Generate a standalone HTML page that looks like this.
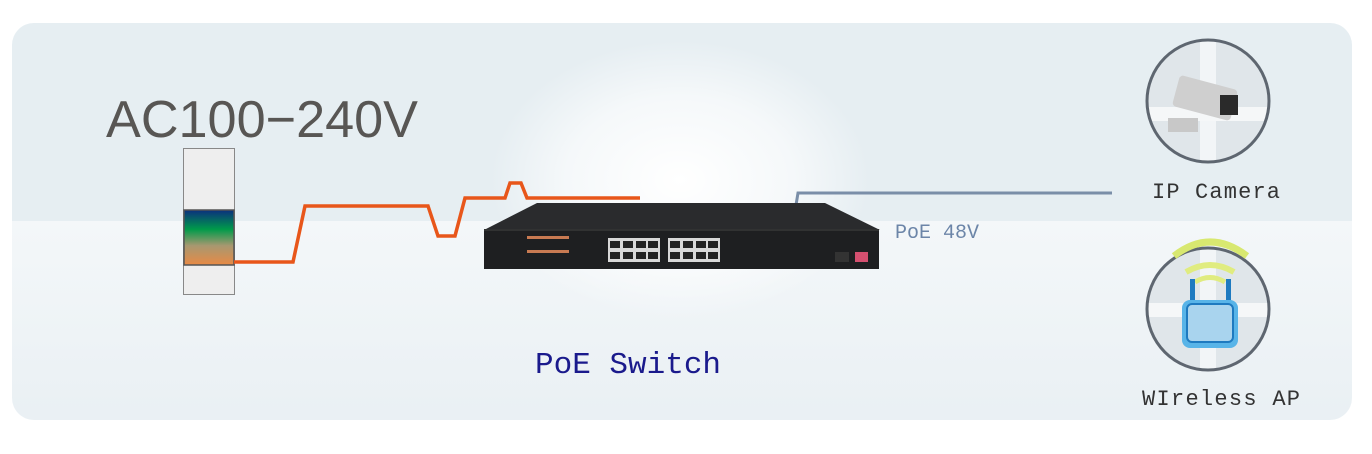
<!DOCTYPE html>
<html><head><style>
body{margin:0;width:1372px;height:449px;background:#fff;overflow:hidden;font-family:"Liberation Sans",sans-serif}
</style></head><body>
<svg width="1372" height="449" viewBox="0 0 1372 449" xmlns="http://www.w3.org/2000/svg">
<defs>
<clipPath id="pc"><rect x="12" y="23" width="1340" height="397" rx="22"/></clipPath>
<linearGradient id="bot" x1="0" y1="0" x2="0" y2="1"><stop offset="0" stop-color="#ffffff"/><stop offset="1" stop-color="#e8eff3"/></linearGradient>
<radialGradient id="glow" cx="0.5" cy="0.5" r="0.5"><stop offset="0" stop-color="#fff" stop-opacity="1"/><stop offset="0.6" stop-color="#fff" stop-opacity="0.6"/><stop offset="1" stop-color="#fff" stop-opacity="0"/></radialGradient>
<linearGradient id="band" x1="0" y1="0" x2="0" y2="1"><stop offset="0" stop-color="#0b2f7e"/><stop offset="0.35" stop-color="#009a4a"/><stop offset="0.65" stop-color="#a89870"/><stop offset="1" stop-color="#e88a45"/></linearGradient>
<clipPath id="c1"><circle cx="1208" cy="101" r="60"/></clipPath>
<clipPath id="c2"><circle cx="1208" cy="309" r="60"/></clipPath>
</defs>
<g clip-path="url(#pc)">
<rect x="0" y="0" width="1372" height="449" fill="url(#bot)"/>
<rect x="0" y="0" width="1372" height="221" fill="#e6eef2"/>
<ellipse cx="680" cy="180" rx="190" ry="140" fill="url(#glow)"/>
</g>
<text x="106" y="137" font-size="52" fill="#585654" textLength="312" lengthAdjust="spacingAndGlyphs">AC100−240V</text>
<rect x="183.5" y="148.5" width="51" height="146" fill="#eeeeee" stroke="#888"/>
<rect x="184" y="210" width="50" height="55" fill="url(#band)" stroke="#555" stroke-width="1.5"/>
<polyline points="234,262 293,262 305,206 428,206 438,236 455,236 465,198 505,198 510,183 521,183 527,198 640,198" fill="none" stroke="#e8561a" stroke-width="3.5"/>
<polyline points="796,205 798,193 1112,193" fill="none" stroke="#7a8ea8" stroke-width="3"/>
<polygon points="537,203 825,203 880,230 484,230" fill="#2a2b2d"/>
<rect x="484" y="229" width="395" height="40" fill="#1e1f21"/>
<line x1="484" y1="230" x2="879" y2="230" stroke="#444" stroke-width="1"/>
<rect x="527" y="236" width="42" height="3" fill="#c87a52"/>
<rect x="527" y="250" width="42" height="3" fill="#c87a52"/>
<g fill="#d8d8d8">
<rect x="608" y="238" width="52" height="24"/><rect x="668" y="238" width="52" height="24"/>
</g>
<g fill="#222">
<rect x="610" y="241" width="10" height="7"/><rect x="623" y="241" width="10" height="7"/><rect x="636" y="241" width="10" height="7"/><rect x="648" y="241" width="10" height="7"/>
<rect x="610" y="252" width="10" height="7"/><rect x="623" y="252" width="10" height="7"/><rect x="636" y="252" width="10" height="7"/><rect x="648" y="252" width="10" height="7"/>
<rect x="670" y="241" width="10" height="7"/><rect x="683" y="241" width="10" height="7"/><rect x="696" y="241" width="10" height="7"/><rect x="708" y="241" width="10" height="7"/>
<rect x="670" y="252" width="10" height="7"/><rect x="683" y="252" width="10" height="7"/><rect x="696" y="252" width="10" height="7"/><rect x="708" y="252" width="10" height="7"/>
</g>
<rect x="855" y="252" width="13" height="10" fill="#d55070"/>
<rect x="835" y="252" width="14" height="10" fill="#333"/>
<text x="895" y="238" font-size="20" fill="#6c85a8" font-family="Liberation Mono,monospace">PoE 48V</text>
<text x="535" y="373" font-size="31" fill="#1a1a8c" font-family="Liberation Mono,monospace">PoE Switch</text>
<g clip-path="url(#c1)"><rect x="1140" y="40" width="140" height="130" fill="#e0e6ea"/>
<rect x="1200" y="40" width="16" height="130" fill="#f2f5f7"/><rect x="1140" y="107" width="140" height="14" fill="#f5f7f8"/>
<rect x="1175" y="82" width="60" height="32" rx="4" fill="#cfcfcf" transform="rotate(15 1205 98)"/>
<rect x="1220" y="95" width="18" height="20" fill="#2a2a2a"/>
<rect x="1168" y="118" width="30" height="14" fill="#c8c8c8"/></g>
<circle cx="1208" cy="101" r="61" fill="none" stroke="#5e6670" stroke-width="3"/>
<text x="1152" y="198" font-size="22" fill="#333" font-family="Liberation Mono,monospace" textLength="128">IP Camera</text>
<g clip-path="url(#c2)"><rect x="1140" y="240" width="140" height="140" fill="#e0e6ea"/>
<rect x="1200" y="240" width="16" height="140" fill="#f2f5f7"/><rect x="1140" y="303" width="140" height="14" fill="#f5f7f8"/></g>
<circle cx="1208" cy="309" r="61" fill="none" stroke="#5e6670" stroke-width="3"/>
<path d="M1174,256 Q1210,228 1247,256" fill="none" stroke="#d8e870" stroke-width="7"/>
<path d="M1186,272 Q1210,258 1234,272" fill="none" stroke="#e0ec80" stroke-width="6"/>
<path d="M1195,282 Q1210,273 1225,282" fill="none" stroke="#e0ec80" stroke-width="5"/>
<rect x="1190" y="279" width="5" height="22" fill="#1e7ac0"/><rect x="1226" y="279" width="5" height="22" fill="#1e7ac0"/>
<rect x="1182" y="300" width="56" height="48" rx="8" fill="#58b4e8"/>
<rect x="1187" y="304" width="46" height="38" rx="5" fill="#a9d4ee" stroke="#1e7ac0" stroke-width="2"/>
<text x="1142" y="405" font-size="22" fill="#333" font-family="Liberation Mono,monospace" textLength="158">WIreless AP</text>
</svg>
</body></html>
